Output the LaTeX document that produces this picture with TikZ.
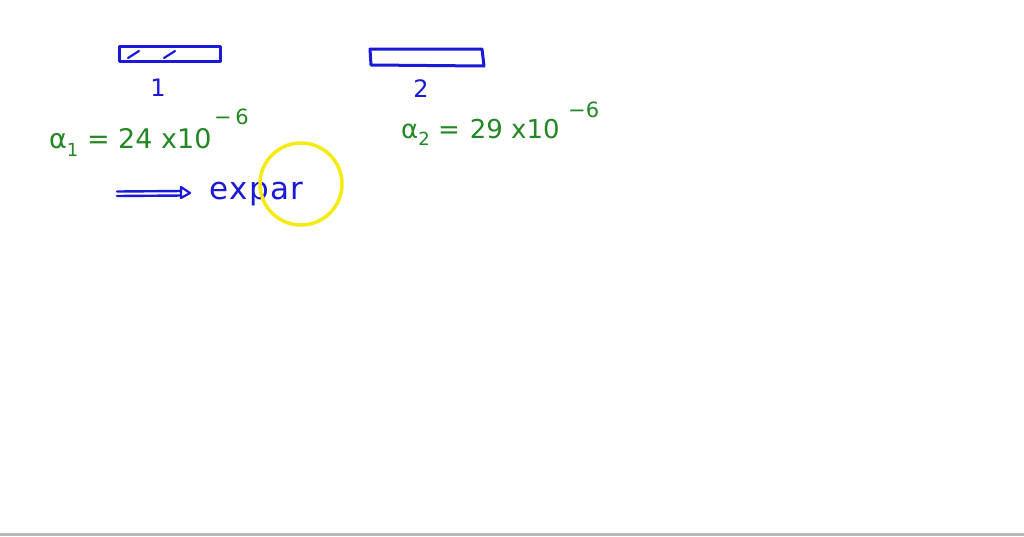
\documentclass[tikz,border=0pt]{standalone}
\usepackage{fontspec}
\setmainfont{DejaVu Sans}
\usetikzlibrary{arrows.meta}
\definecolor{penblue}{RGB}{25,25,215}
\definecolor{pengreen}{RGB}{35,135,35}
\definecolor{hiyellow}{RGB}{245,235,20}
\tikzset{
  bar/.style={draw=penblue, line width=3pt, line cap=round, line join=round},
  bluetxt/.style={text=penblue, inner sep=0pt, font=\fontsize{24}{24}\selectfont},
  greentxt/.style={text=pengreen, inner sep=0pt, anchor=base west},
  suptxt/.style={text=pengreen, inner sep=0pt, anchor=base west, font=\fontsize{21}{21}\selectfont},
}
\newcommand{\subdig}[1]{\raisebox{-0.3em}{\fontsize{18}{18}\selectfont #1}}
\begin{document}
\begin{tikzpicture}[x=1pt,y=-1pt]
\useasboundingbox (0,0) rectangle (1024,536);
\fill[white] (0,0) rectangle (1024,536);
\fill[black!28] (0,533) rectangle (1024,536);
% bar 1
\draw[bar] (119,46) rectangle (220,61);
\draw[penblue, line width=2.2pt, line cap=round] (128,58) -- (139,51) (164,58) -- (175,51);
\node[bluetxt] (n1) at (158,88) {1};
% bar 2
\draw[bar] (370,49) -- (482,49) -- (484,66) -- (371,65) -- cycle;
\node[bluetxt] (n2) at (421,89) {2};
% alpha 1
\node[greentxt, font=\fontsize{27}{27}\selectfont] (a1) at (49,148) {α\subdig{1} = 24 x10};
\node[suptxt] (e1) at (214,124) {−\,6};
% alpha 2
\node[greentxt, font=\fontsize{26}{26}\selectfont] (a2) at (401,138) {α\subdig{2} =\hspace{10pt}29 x10};
\node[suptxt] (e2) at (568,117) {−6};
% arrow
\node[inner sep=0pt, minimum size=2pt] (tip) at (190,193) {};
\draw[penblue, line width=2.4pt, line cap=round] (117,191.5) -- (183,191) (117,196) -- (183,195.5);
\draw[penblue, line width=2.2pt, line join=round, fill=white] (181,187) -- (tip.center) -- (181,198) -- cycle;
\node[text=penblue, inner sep=0pt, anchor=base west, font=\fontsize{31}{31}\selectfont\addfontfeature{LetterSpace=5}] (ex) at (209,199) {expar};
% yellow highlight circle
\draw[hiyellow, line width=3.5pt] (301,184) circle (41);
\end{tikzpicture}
\end{document}
